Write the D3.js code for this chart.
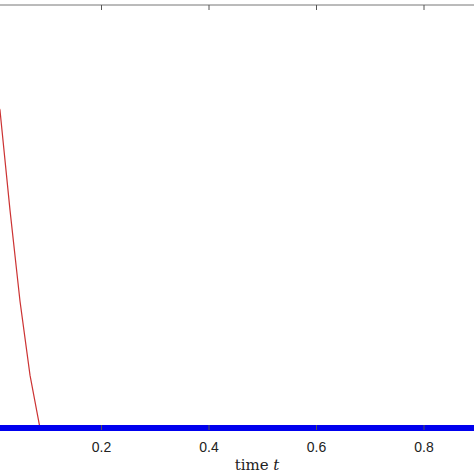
<!DOCTYPE html>
<html><head><meta charset="utf-8">
<script src="https://cdn.jsdelivr.net/npm/d3@7"></script>
<style>body{margin:0;background:#fff}</style></head>
<body><svg id="c" width="474" height="474"></svg>
<script>
// red curve
const redT = [0, 0.012, 0.0307, 0.0493, 0.0679, 0.0865, 0.1, 0.3, 0.6, 0.9];
const redV = [0.79, 0.752, 0.515, 0.30, 0.125, 0, 0.002, 0.002, 0.002, 0.002];
const blueT = [0, 0.9];
const blueV = [0, 0];
const xTicks = [0.2, 0.4, 0.6, 0.8];

const svg = d3.select("#c");
const x = d3.scaleLinear().domain([0, 0.2]).range([-6.5, 101]);
const y = d3.scaleLinear().domain([0, 1]).range([428, 5]);

svg.append("defs").append("clipPath").attr("id", "clip")
  .append("rect").attr("x", 0).attr("y", 5).attr("width", 474).attr("height", 426);

const line = d3.line().x(d => x(d[0])).y(d => y(d[1]));
const g = svg.append("g").attr("clip-path", "url(#clip)");
g.append("path").datum(d3.zip(redT, redV)).attr("d", line)
  .attr("fill", "none").attr("stroke", "#cc3333").attr("stroke-width", 1.2);
g.append("path").datum(d3.zip(blueT, blueV)).attr("d", line)
  .attr("fill", "none").attr("stroke", "#0000ee").attr("stroke-width", 6);

// top box edge
svg.append("line").attr("x1", 0).attr("x2", 474).attr("y1", 5).attr("y2", 5)
  .attr("stroke", "#777").attr("stroke-width", 1);

const ax = d3.axisBottom(x).tickValues(xTicks).tickSize(-5).tickPadding(12)
  .tickFormat(d3.format(".1f"));
const axg = svg.append("g").attr("transform", "translate(0,430)").call(ax);
axg.select(".domain").remove();
axg.selectAll("line").attr("stroke", "#555");
axg.selectAll("text").attr("font-family", "Helvetica, Liberation Sans, Arial")
  .attr("font-size", 14).attr("fill", "#222");
const topAx = d3.axisTop(x).tickValues(xTicks).tickSize(-5).tickFormat("");
const tg = svg.append("g").attr("transform", "translate(0,5)").call(topAx);
tg.select(".domain").remove();
tg.selectAll("line").attr("stroke", "#555");

const lbl = svg.append("text").attr("x", 257).attr("y", 470).attr("text-anchor", "middle")
  .attr("font-family", "DejaVu Serif, Liberation Serif, serif").attr("font-size", 15).attr("fill", "#222");
lbl.append("tspan").text("time ");
lbl.append("tspan").attr("font-style", "italic").text("t");
</script></body></html>
